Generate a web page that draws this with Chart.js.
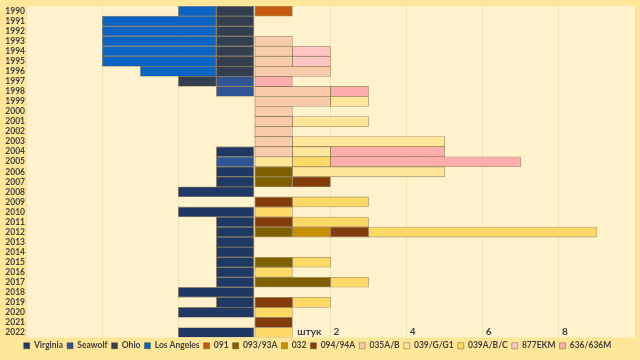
<!DOCTYPE html>
<html>
<head>
<meta charset="utf-8">
<script src="https://cdn.jsdelivr.net/npm/chart.js@4"></script>
<style>
  html, body { margin: 0; padding: 0; background: #FFE699; }
  #wrap { width: 640px; height: 360px; }
</style>
</head>
<body>
<div id="wrap"><canvas id="subsChart" width="640" height="360"></canvas></div>
<script>
// years on the category axis
const years = [];
for (let y = 1990; y <= 2022; y++) years.push(String(y));

// US boats commissioned per year (drawn to the left)
const virginia   = [0,0,0,0,0,0,0,0,0,0,0,0,0,0,1,0,1,1,2,0,2,1,1,1,1,1,1,1,2,1,2,0,2];
const seawolf    = [0,0,0,0,0,0,0,1,1,0,0,0,0,0,0,1,0,0,0,0,0,0,0,0,0,0,0,0,0,0,0,0,0];
const ohio       = [1,1,1,1,1,1,1,1,0,0,0,0,0,0,0,0,0,0,0,0,0,0,0,0,0,0,0,0,0,0,0,0,0];
const losAngeles = [1,3,3,3,3,3,2,0,0,0,0,0,0,0,0,0,0,0,0,0,0,0,0,0,0,0,0,0,0,0,0,0,0];

// Chinese boats per year (drawn to the right)
const t091   = [1,0,0,0,0,0,0,0,0,0,0,0,0,0,0,0,0,0,0,0,0,0,0,0,0,0,0,0,0,0,0,0,0];
const t093   = [0,0,0,0,0,0,0,0,0,0,0,0,0,0,0,0,1,1,0,0,0,0,1,0,0,1,0,2,0,0,0,0,0];
const t032   = [0,0,0,0,0,0,0,0,0,0,0,0,0,0,0,0,0,0,0,0,0,0,1,0,0,0,0,0,0,0,0,0,0];
const t094   = [0,0,0,0,0,0,0,0,0,0,0,0,0,0,0,0,0,1,0,1,0,1,1,0,0,0,0,0,0,1,0,1,0];
const t035   = [0,0,0,1,1,1,2,0,2,2,1,1,1,1,1,0,0,0,0,0,0,0,0,0,0,0,0,0,0,0,0,0,0];
const t039   = [0,0,0,0,0,0,0,0,0,1,0,2,0,4,1,1,4,0,0,0,0,0,0,0,0,0,0,0,0,0,0,0,0];
const t039A  = [0,0,0,0,0,0,0,0,0,0,0,0,0,0,0,1,0,0,0,2,1,2,6,0,0,1,1,1,0,1,1,0,1];
const t877   = [0,0,0,0,1,1,0,0,0,0,0,0,0,0,0,0,0,0,0,0,0,0,0,0,0,0,0,0,0,0,0,0,0];
const t636   = [0,0,0,0,0,0,0,1,1,0,0,0,0,0,3,5,0,0,0,0,0,0,0,0,0,0,0,0,0,0,0,0,0];

// x axis labels
const tickValues = [0, 2, 4, 6, 8];
const tickLabels = ['штук', '2', '4', '6', '8'];

const FONT = 'Lato, "Open Sans", sans-serif';
const TEXT = '#3F3F3F';
const EDGE = 'rgba(70,50,10,0.45)';

function left(arr)  { return arr.map(v => v ? -v : null); }
function right(arr) { return arr.map(v => v ? v : null); }

function ds(label, data, color) {
  return {
    label: label,
    data: data,
    backgroundColor: color,
    borderColor: EDGE,
    borderWidth: 0.8,
    borderSkipped: false,
    barPercentage: 1,
    categoryPercentage: 1
  };
}

const datasets = [
  ds('Virginia',    left(virginia),   '#1F3864'),
  ds('Seawolf',     left(seawolf),    '#2F5597'),
  ds('Ohio',        left(ohio),       '#333F50'),
  ds('Los Angeles', left(losAngeles), '#0B63C4'),
  ds('091',         right(t091),      '#C55A11'),
  ds('093/93A',     right(t093),      '#7F6000'),
  ds('032',         right(t032),      '#C99000'),
  ds('094/94A',     right(t094),      '#843C0C'),
  ds('035A/B',      right(t035),      '#F8CBAD'),
  ds('039/G/G1',    right(t039),      '#FFE699'),
  ds('039A/B/C',    right(t039A),     '#FFD966'),
  ds('877EKM',      right(t877),      '#FFC5C5'),
  ds('636/636M',    right(t636),      '#FFADAD')
];

// background: gold frame, cream plot area
const backdrop = {
  id: 'backdrop',
  beforeDraw(chart) {
    const { ctx, chartArea: a } = chart;
    ctx.save();
    ctx.fillStyle = '#FFE699';
    ctx.fillRect(0, 0, chart.width, chart.height);
    ctx.fillStyle = '#FFF2CC';
    ctx.fillRect(a.left, a.top, a.right - a.left, a.bottom - a.top);
    ctx.restore();
  }
};

// x labels sit inside the plot, on the last row
const xLabels = {
  id: 'xLabels',
  afterDatasetsDraw(chart) {
    const { ctx, chartArea: a } = chart;
    const xs = chart.scales.x;
    ctx.save();
    ctx.font = 'bold 10px ' + FONT;
    ctx.fillStyle = TEXT;
    ctx.textBaseline = 'middle';
    const y = a.bottom - 6;
    tickValues.forEach((v, i) => {
      if (v === 0) {
        ctx.textAlign = 'right';
        ctx.fillText(tickLabels[i], xs.getPixelForValue(2) - 9, y);
      } else {
        ctx.textAlign = 'left';
        ctx.fillText(tickLabels[i], xs.getPixelForValue(v) + 3, y);
      }
    });
    ctx.restore();
  }
};

new Chart(document.getElementById('subsChart'), {
  type: 'bar',
  data: { labels: years, datasets: datasets },
  options: {
    indexAxis: 'y',
    responsive: false,
    animation: false,
    layout: { padding: { top: 4, right: 5, left: 0, bottom: 0 } },
    scales: {
      x: {
        stacked: true,
        min: -6,
        max: 10,
        ticks: { display: false, stepSize: 2 },
        grid: { color: '#F3E2B6', lineWidth: 1, drawTicks: false },
        border: { display: false }
      },
      y: {
        stacked: true,
        afterFit(scale) { scale.width = 26; },
        ticks: {
          autoSkip: false,
          padding: 1,
          color: TEXT,
          font: { family: FONT, size: 8.5, weight: 'bold' }
        },
        grid: { display: false, drawTicks: false },
        border: { display: false }
      }
    },
    plugins: {
      legend: {
        position: 'bottom',
        labels: {
          boxWidth: 6,
          boxHeight: 6,
          padding: 4,
          color: TEXT,
          font: { family: FONT, size: 8.5, weight: 'bold' }
        }
      },
      tooltip: { enabled: false }
    }
  },
  plugins: [backdrop, xLabels]
});
</script>
</body>
</html>
